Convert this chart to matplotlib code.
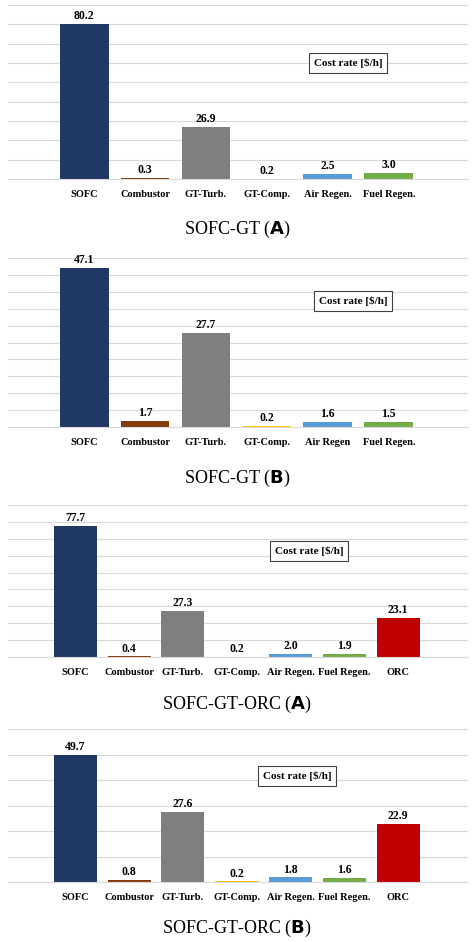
import matplotlib
matplotlib.use("Agg")
import matplotlib.pyplot as plt

cats6 = ["SOFC", "Combustor", "GT-Turb.", "GT-Comp.", "Air Regen.", "Fuel Regen."]
cats6b = ["SOFC", "Combustor", "GT-Turb.", "GT-Comp.", "Air Regen", "Fuel Regen."]
cats7 = ["SOFC", "Combustor", "GT-Turb.", "GT-Comp.", "Air Regen.", "Fuel Regen.", "ORC"]
vals_gt_a = [80.2, 0.3, 26.9, 0.2, 2.5, 3.0]
vals_gt_b = [47.1, 1.7, 27.7, 0.2, 1.6, 1.5]
vals_orc_a = [77.7, 0.4, 27.3, 0.2, 2.0, 1.9, 23.1]
vals_orc_b = [49.7, 0.8, 27.6, 0.2, 1.8, 1.6, 22.9]
colors = ["#1F3864", "#843C0C", "#7F7F7F", "#FFC000", "#5B9BD5", "#70AD47", "#C00000"]

plt.rcParams['font.family'] = ['Liberation Serif', 'DejaVu Serif']
W, H = 474, 942
fig = plt.figure(figsize=(W/100, H/100), dpi=100)

panels = [
    (cats6, vals_gt_a, 90, 10, 5, 179, (348, 63), "SOFC-GT (", 229),
    (cats6b, vals_gt_b, 50, 5, 258, 427, (353, 301), "SOFC-GT (", 478),
    (cats7, vals_orc_a, 90, 10, 505, 657, (309, 551), "SOFC-GT-ORC (", 704),
    (cats7, vals_orc_b, 60, 10, 729, 882, (297, 776), "SOFC-GT-ORC (", 928),
]
letters = ["A", "B", "A", "B"]
for (cats, vals, ymax, step, top, base, box, title, ty), let in zip(panels, letters):
    ax = fig.add_axes([8/W, 1-base/H, 460/W, (base-top)/H])
    n = len(cats)
    x = list(range(n))
    ax.bar(x, vals, width=0.8, color=colors[:n], zorder=2)
    for xi, v in zip(x, vals):
        ax.text(xi, v + ymax*0.012, f"{v:.1f}", ha="center", va="bottom",
                fontsize=8.5, fontweight="bold")
    ax.set_ylim(0, ymax)
    ax.set_xlim(-1.25, n + 0.3)
    ax.set_yticks(range(0, ymax+1, step))
    ax.set_yticklabels([])
    ax.tick_params(length=0)
    ax.set_xticks(x)
    ax.set_xticklabels(cats, fontsize=7.5, fontweight="bold")
    ax.tick_params(axis="x", pad=8)
    ax.grid(axis="y", color="#D9D9D9", lw=0.8, zorder=0)
    for s in ["top", "right", "left"]:
        ax.spines[s].set_visible(False)
    ax.spines["bottom"].set_color("#D9D9D9")
    fig.text(box[0]/W, 1-box[1]/H, "Cost rate [$/h]", ha="center", va="center",
             fontsize=8, fontweight="bold",
             bbox=dict(boxstyle="square,pad=0.45", fc="white", ec="#404040", lw=0.8))
    t = fig.text(237/W, 1-ty/H, title + r"$\mathbf{" + let + "}$" + ")", ha="center",
                 va="center", fontsize=13)
plt.rcParams['mathtext.fontset'] = 'custom'
plt.rcParams['mathtext.bf'] = 'Liberation Serif:bold'
fig.savefig("out.png", dpi=100)
